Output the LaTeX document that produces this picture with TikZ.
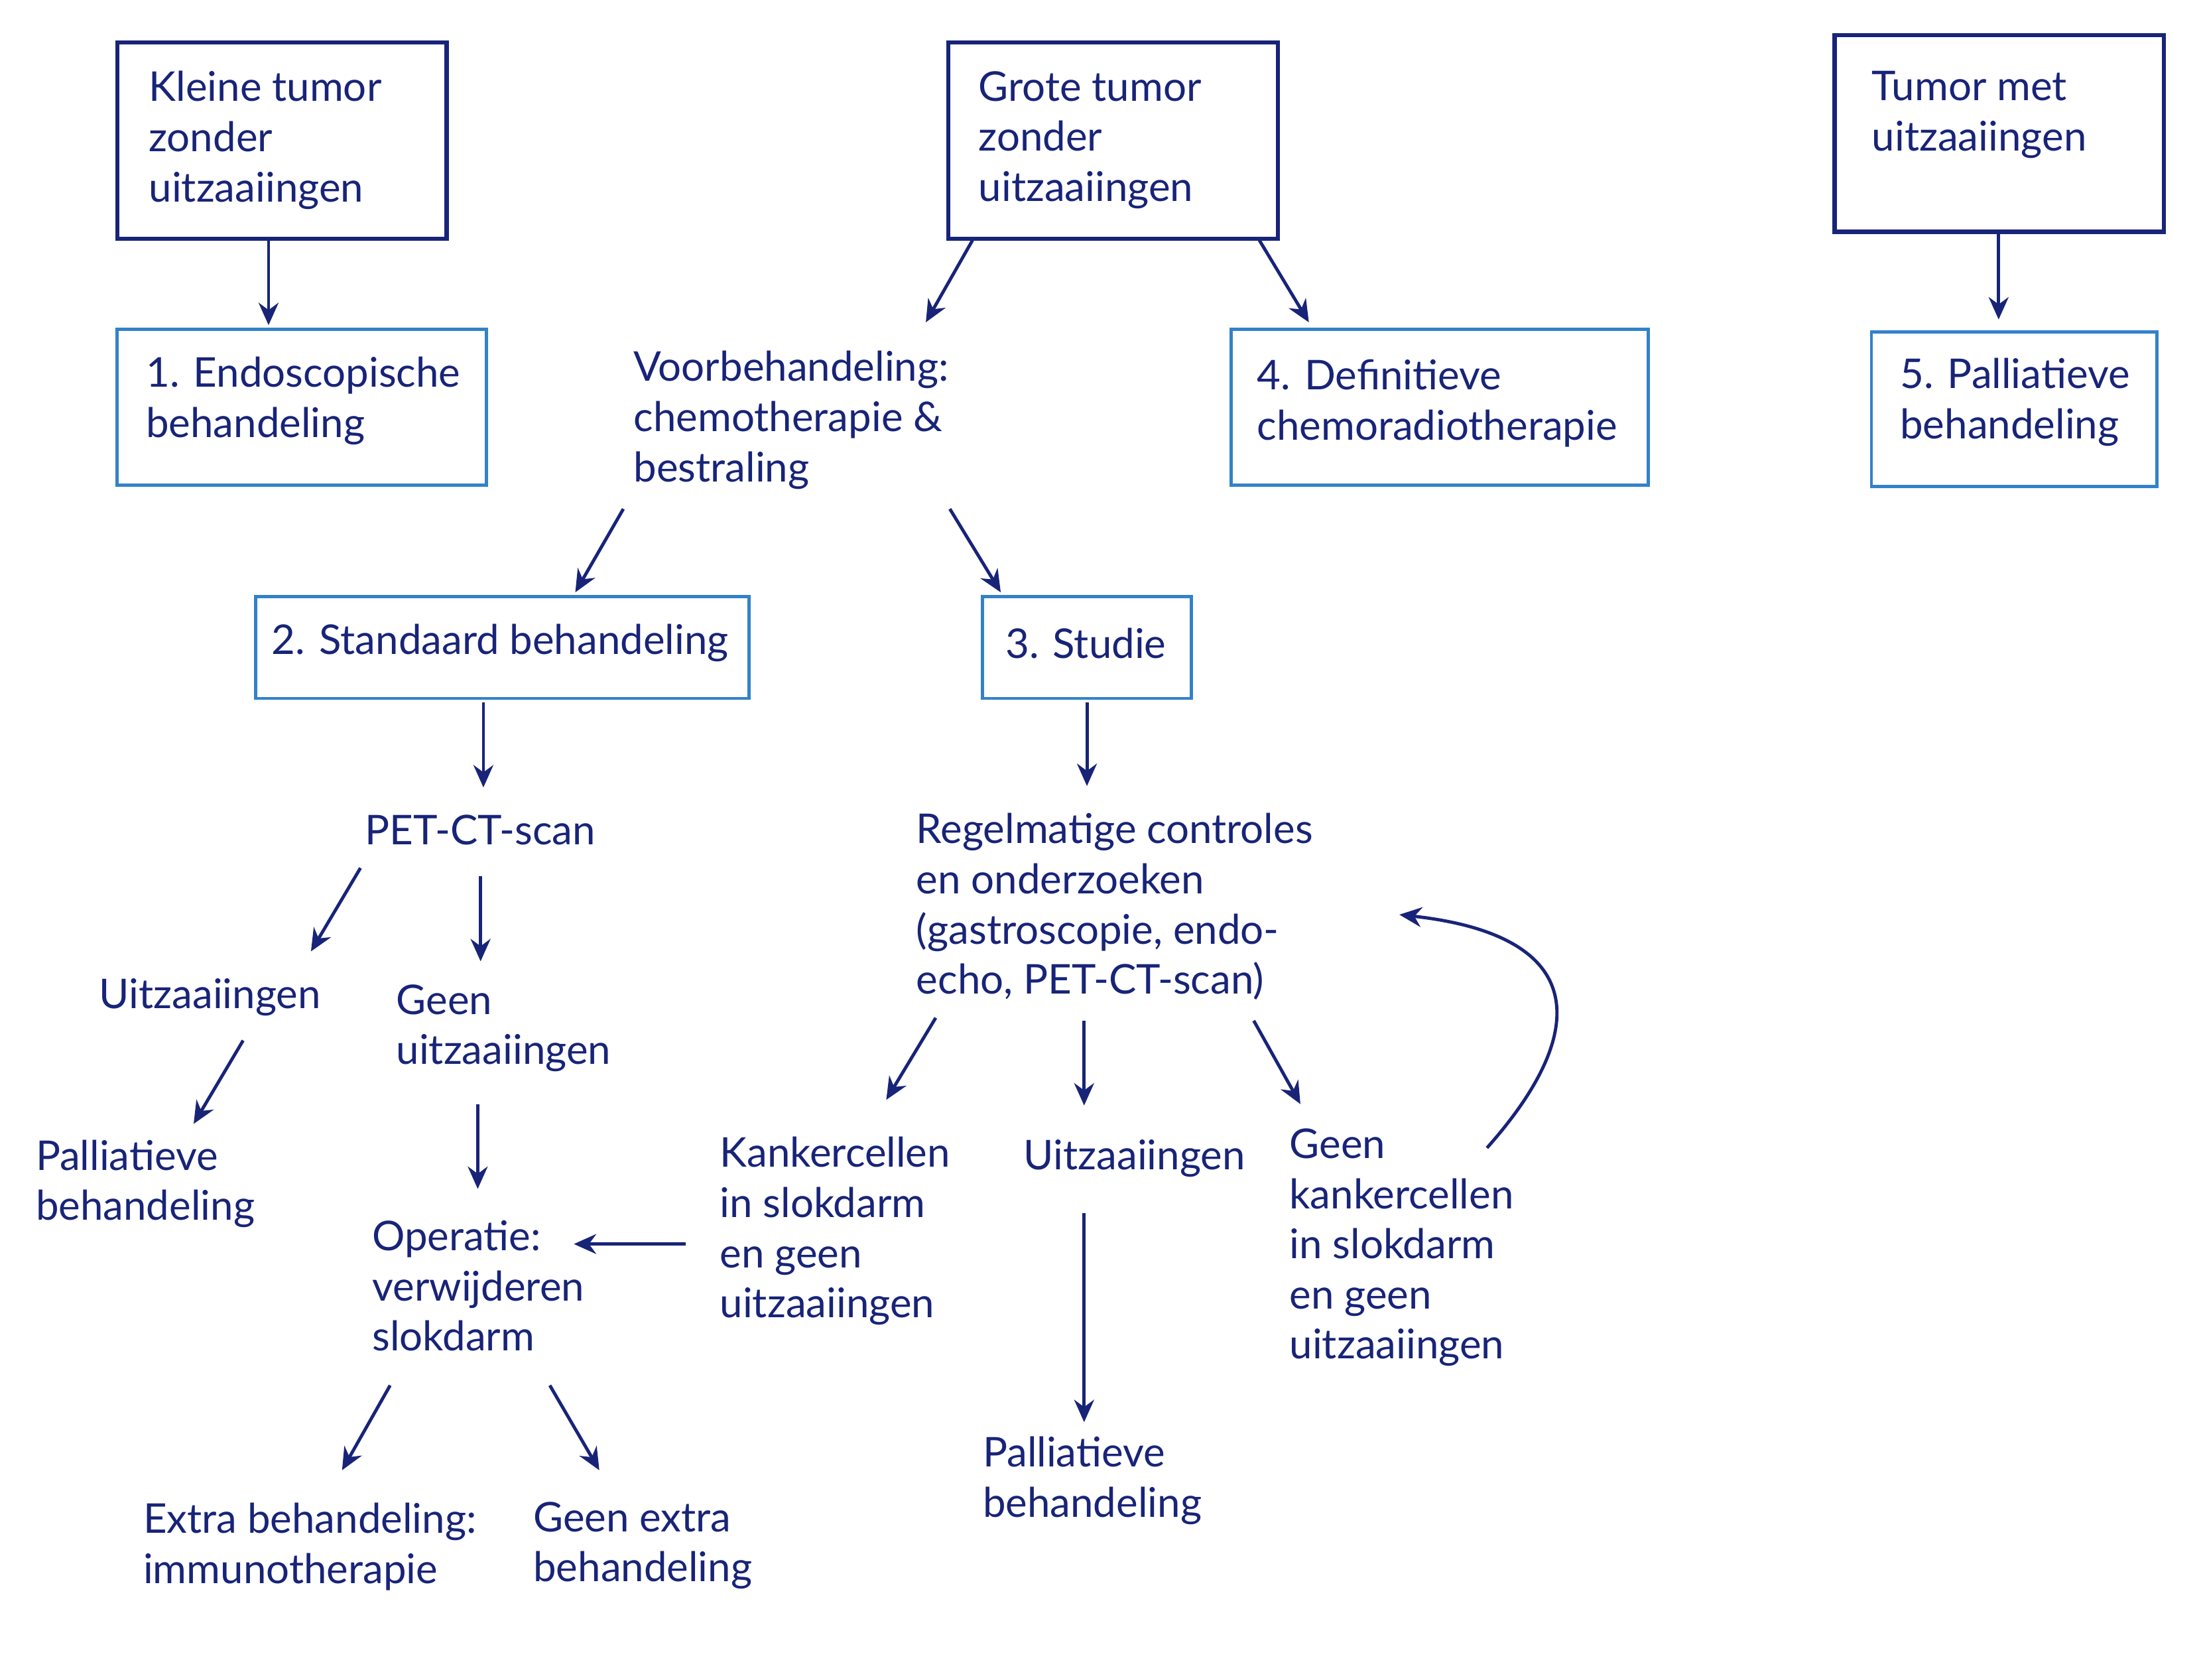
\documentclass[tikz,border=0pt]{standalone}
\usepackage{fontspec}
\setmainfont{Lato}
\usetikzlibrary{arrows.meta}
\definecolor{navy}{RGB}{24,36,120}
\definecolor{lblue}{RGB}{50,130,200}
\tikzset{
 navybox/.style={draw=navy,line width=1.7pt},
 bluebox/.style={draw=lblue,line width=1.3pt},
 txt/.style={text=navy,font=\fontsize{16.5}{20.2}\selectfont,align=left,inner sep=0pt,anchor=north west},
 arr/.style={draw=navy,line width=1.3pt,-{Stealth[length=9pt,width=8pt]}}
}
\begin{document}
\begin{tikzpicture}[x=0.02cm,y=-0.02cm]
\useasboundingbox[fill=white] (0,0) rectangle (1560,1188);
% boxes
\draw[navybox] (83,30) rectangle (316,169);
\draw[navybox] (671,30) rectangle (904,169);
\draw[navybox] (1298,25) rectangle (1531,164);
\draw[bluebox] (83,233) rectangle (344,343);
\draw[bluebox] (871,233) rectangle (1166,343);
\draw[bluebox] (1324,235) rectangle (1526,344);
\draw[bluebox] (181,422) rectangle (530,494);
\draw[bluebox] (695,422) rectangle (843,494);
% texts
\node[txt] (a) at (105,50) {Kleine tumor\\zonder\\uitzaaiingen};
\node[txt] (b) at (692,50) {Grote tumor\\zonder\\uitzaaiingen};
\node[txt] (c) at (1324,50) {Tumor met\\uitzaaiingen};
\node[txt] (d) at (103,252) {1. Endoscopische\\behandeling};
\node[txt] (e) at (889,254) {4. Definitieve\\chemoradiotherapie};
\node[txt] (f) at (1344,253) {5. Palliatieve\\behandeling};
\node[txt] (g) at (192,441) {2. Standaard behandeling};
\node[txt] (h) at (711,444) {3. Studie};
\node[txt] (vb) at (448,248) {Voorbehandeling:\\chemotherapie \&\\bestraling};
\node[txt] (pet) at (258,576) {PET-CT-scan};
\node[txt] (u1) at (70,692) {Uitzaaiingen};
\node[txt] (gu) at (280,696) {Geen\\uitzaaiingen};
\node[txt] (p1) at (25,806) {Palliatieve\\behandeling};
\node[txt] (op) at (263,863) {Operatie:\\verwijderen\\slokdarm};
\node[txt] (ex) at (101,1063) {Extra behandeling:\\immunotherapie};
\node[txt] (ge) at (377,1062) {Geen extra\\behandeling};
\node[txt] (rc) at (648,575) {Regelmatige controles\\en onderzoeken\\(gastroscopie, endo-\\echo, PET-CT-scan)};
\node[txt] (kk) at (509,804) {Kankercellen\\in slokdarm\\en geen\\uitzaaiingen};
\node[txt] (u2) at (724,806) {Uitzaaiingen};
\node[txt] (gk) at (912,798) {Geen\\kankercellen\\in slokdarm\\en geen\\uitzaaiingen};
\node[txt] (p2) at (695,1016) {Palliatieve\\behandeling};
% arrows
\draw[arr] (190,169) -- (190,230);
\draw[arr] (688,170) -- (655,228);
\draw[arr] (891,170) -- (926,228);
\draw[arr] (1414,164) -- (1414,226);
\draw[arr] (441,360) -- (407,419);
\draw[arr] (672,360) -- (708,419);
\draw[arr] (342,497) -- (342,557);
\draw[arr] (769,497) -- (769,556);
\draw[arr] (255,614) -- (220,673);
\draw[arr] (340,620) -- (340,680);
\draw[arr] (172,736) -- (137,795);
\draw[arr] (338,781) -- (338,841);
\draw[arr] (485,880) -- (406,880);
\draw[arr] (276,980) -- (242,1040);
\draw[arr] (389,980) -- (424,1040);
\draw[arr] (662,720) -- (627,778);
\draw[arr] (767,722) -- (767,782);
\draw[arr] (887,722) -- (920,781);
\draw[arr] (767,858) -- (767,1006);
\draw[arr] (1052,812) .. controls (1125,730) and (1125,662) .. (990,647);
\end{tikzpicture}
\end{document}
